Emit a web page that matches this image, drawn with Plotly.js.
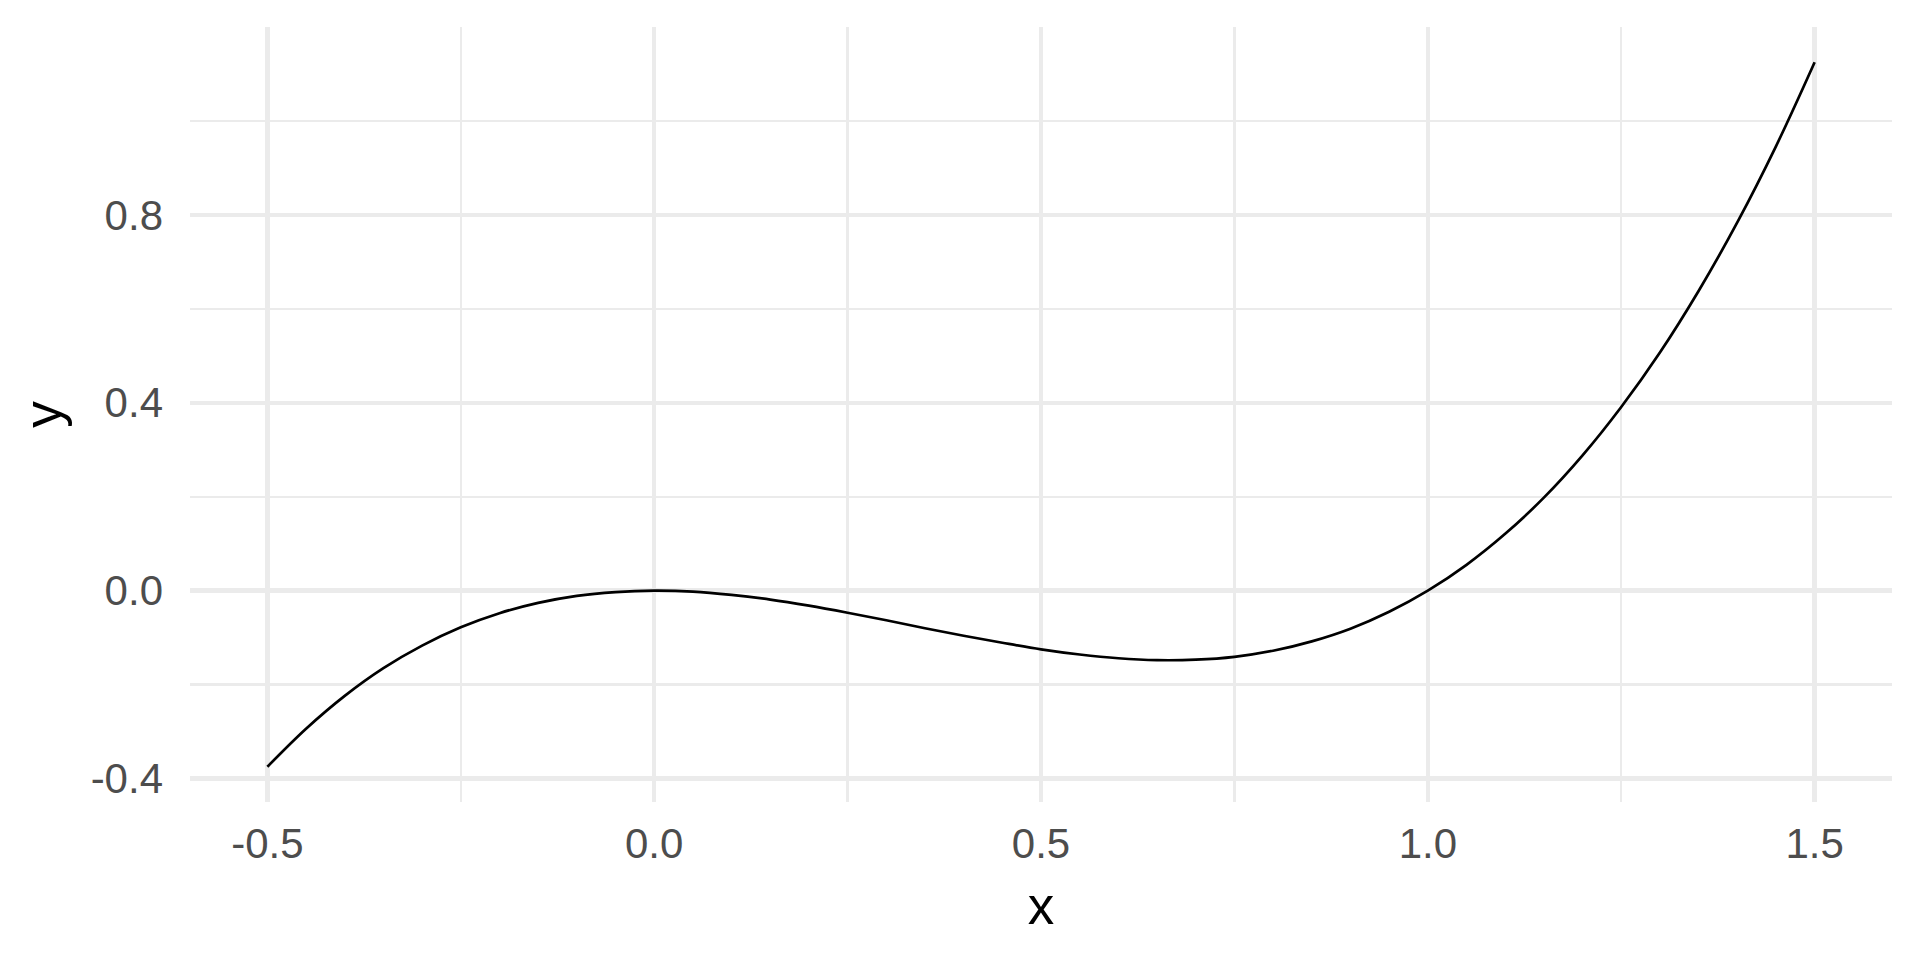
<!DOCTYPE html>
<html>
<head>
<meta charset="utf-8">
<script src="https://cdn.plot.ly/plotly-3.0.1.min.js"></script>
<style>html,body{margin:0;padding:0;background:#fff;}#chart{width:1920px;height:960px;}</style>
</head>
<body>
<div id="chart"></div>
<script>
// values
const xValues = [-0.5, -0.45, -0.4, -0.35, -0.3, -0.25, -0.2, -0.15, -0.1, -0.05, 0.0, 0.05, 0.1, 0.15, 0.2, 0.25, 0.3, 0.35, 0.4, 0.45, 0.5, 0.55, 0.6, 0.65, 0.7, 0.75, 0.8, 0.85, 0.9, 0.95, 1.0, 1.05, 1.1, 1.15, 1.2, 1.25, 1.3, 1.35, 1.4, 1.45, 1.5];
const yValues = [-0.375, -0.294, -0.224, -0.165, -0.117, -0.078, -0.048, -0.026, -0.011, -0.003, 0.0, -0.002, -0.009, -0.019, -0.032, -0.047, -0.063, -0.080, -0.096, -0.111, -0.125, -0.136, -0.144, -0.148, -0.147, -0.141, -0.128, -0.108, -0.081, -0.045, 0.0, 0.055, 0.121, 0.198, 0.288, 0.391, 0.507, 0.638, 0.784, 0.946, 1.125];
const xTicks = [-0.5, 0.0, 0.5, 1.0, 1.5];
const xTickLabels = ["-0.5", "0.0", "0.5", "1.0", "1.5"];
const yTicks = [-0.4, 0.0, 0.4, 0.8];
const yTickLabels = ["-0.4", "0.0", "0.4", "0.8"];

const trace = {
  x: xValues, y: yValues, type: 'scatter', mode: 'lines',
  line: {color: '#000000', width: 2.7, shape: 'spline', smoothing: 1},
  hoverinfo: 'skip', showlegend: false
};

const tickFont = {family: 'Liberation Sans, Arial, sans-serif', size: 42, color: '#4d4d4d'};
const titleFont = {family: 'Liberation Sans, Arial, sans-serif', size: 53, color: '#000000'};

const layout = {
  width: 1920, height: 960,
  paper_bgcolor: '#ffffff', plot_bgcolor: '#ffffff',
  margin: {l: 190, r: 28, t: 27, b: 158},
  showlegend: false,
  xaxis: {
    range: [-0.6, 1.6], tickmode: 'array', tickvals: xTicks, ticktext: xTickLabels,
    showgrid: true, gridcolor: '#ebebeb', gridwidth: 4.4, zeroline: false, showline: false,
    ticks: '', tickfont: tickFont, ticklabelstandoff: 13,
    minor: {dtick: 0.25, tick0: -0.25, showgrid: true, gridcolor: '#ebebeb', gridwidth: 2.2, ticks: ''},
    title: {text: 'x', font: titleFont, standoff: 20},
    automargin: false
  },
  yaxis: {
    range: [-0.45, 1.2], tickmode: 'array', tickvals: yTicks, ticktext: yTickLabels,
    showgrid: true, gridcolor: '#ebebeb', gridwidth: 4.4, zeroline: false, showline: false,
    ticks: '', tickfont: tickFont, ticklabelstandoff: 26,
    minor: {dtick: 0.4, tick0: -0.2, showgrid: true, gridcolor: '#ebebeb', gridwidth: 2.2, ticks: ''},
    title: {text: 'y', font: titleFont, standoff: 12},
    automargin: false
  }
};

Plotly.newPlot('chart', [trace], layout, {displayModeBar: false, staticPlot: true});
</script>
</body>
</html>
